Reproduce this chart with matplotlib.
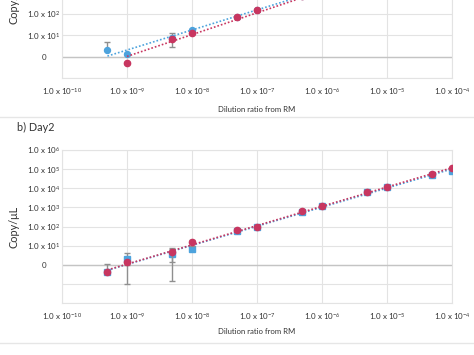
import numpy as np
import matplotlib
matplotlib.use("Agg")
import matplotlib.pyplot as plt

plt.rcParams['font.family'] = ['Lato', 'DejaVu Sans']
plt.rcParams['mathtext.fontset'] = 'custom'
plt.rcParams['mathtext.rm'] = 'Lato'
plt.rcParams['mathtext.it'] = 'Lato'
plt.rcParams['mathtext.bf'] = 'Lato'

# ---------------- data ----------------
dilution = [5e-10, 1e-9, 5e-9, 1e-8, 5e-8, 1e-7, 5e-7, 1e-6, 5e-6, 1e-5, 5e-5, 1e-4]

# Day 1 (top panel, partly cropped)
day1_blue_x = [5e-10, 1e-9, 5e-9, 1e-8, 5e-8, 1e-7, 5e-7, 1e-6, 5e-6, 1e-5, 5e-5, 1e-4]
day1_blue_y = [2.1, 1.35, 7.4, 16.2, 72, 138, 630, 1120, 5600, 11200, 52000, 105000]
day1_blue_err = [2.7, 0.15, 4.7, 2.5, 6, 10, 40, 80, 300, 600, 3000, 6000]
day1_red_x = [1e-9, 5e-9, 1e-8, 5e-8, 1e-7, 5e-7, 1e-6, 5e-6, 1e-5, 5e-5, 1e-4]
day1_red_y = [0.51, 6.2, 12.6, 72, 138, 620, 1100, 5500, 11000, 51000, 104000]
day1_red_err = [0.05, 0.5, 1.0, 5, 8, 30, 60, 300, 600, 3000, 6000]

# Day 2 (bottom panel)
day2_blue_y = [0.42, 2.0, 3.6, 6.7, 60, 95, 600, 1150, 6000, 11000, 52000, 80000]
day2_blue_err = [0.0, 1.9, 3.45, 1.0, 4, 6, 30, 60, 300, 500, 2500, 6000]
day2_red_y = [0.40, 1.32, 4.4, 14.8, 62, 100, 620, 1120, 6200, 11200, 55000, 112000]
day2_red_err = [0.72, 0.3, 3.0, 5.2, 4, 6, 30, 60, 300, 500, 2500, 5000]

x_ticks = [1e-10, 1e-9, 1e-8, 1e-7, 1e-6, 1e-5, 1e-4]
x_ticklabels = ['1.0 x 10$^{-10}$', '1.0 x 10$^{-9}$', '1.0 x 10$^{-8}$', '1.0 x 10$^{-7}$',
                '1.0 x 10$^{-6}$', '1.0 x 10$^{-5}$', '1.0 x 10$^{-4}$']
y_ticks = [1e-2, 1e-1, 1e0, 1e1, 1e2, 1e3, 1e4, 1e5, 1e6]
y_ticklabels = ['', '', '0', '1.0 x 10$^{1}$', '1.0 x 10$^{2}$', '1.0 x 10$^{3}$',
                '1.0 x 10$^{4}$', '1.0 x 10$^{5}$', '1.0 x 10$^{6}$']

BLUE = '#4DA3DD'
RED = '#C83660'
ERR = '#8F8F8F'
GRID = '#E3E3E3'
TXT = '#333333'

W, H = 474, 355
fig = plt.figure(figsize=(W / 100, H / 100), dpi=100)
fig.patch.set_facecolor('white')


def px_axes(left, top, right, bottom):
    return fig.add_axes([left / W, 1 - bottom / H, (right - left) / W, (bottom - top) / H])


def style(ax, ymin):
    ax.set_xscale('log')
    ax.set_yscale('log')
    ax.set_xticks(x_ticks)
    ax.set_xticklabels(x_ticklabels)
    ax.set_yticks(y_ticks)
    ax.set_yticklabels(y_ticklabels)
    ax.set_xlim(1e-10, 1e-4)
    ax.set_ylim(ymin, 1e6)
    ax.minorticks_off()
    ax.tick_params(axis='both', length=0, labelsize=5.8, colors=TXT)
    ax.tick_params(axis='y', pad=13)
    ax.tick_params(axis='x', pad=6)
    for lab in ax.get_yticklabels():
        lab.set_horizontalalignment('center')
    ax.grid(True, color=GRID, lw=0.8)
    ax.set_axisbelow(True)
    for s in ax.spines.values():
        s.set_color(GRID)
        s.set_linewidth(0.8)
    ax.axhline(1, color='#C4C4C4', lw=1.0, zorder=1)
    ax.set_ylabel('Copy/μL', fontsize=7.8, color=TXT)
    ax.yaxis.set_label_coords(-0.108, 0.5)


def series(ax, x, y, err, color, marker, ms, z):
    x = np.array(x)
    y = np.array(y)
    err = np.array(err)
    lower = np.where(y - err > 0, err, 0)
    ax.errorbar(x, y, yerr=[lower, err], fmt='none', ecolor=ERR, elinewidth=1.0,
                capsize=2.2, capthick=1.0, zorder=z)
    ax.plot(x, y, linestyle='none', marker=marker, ms=ms, color=color,
            markeredgecolor=color, zorder=z + 1)
    k, b = np.polyfit(np.log10(x), np.log10(y), 1)
    xx = np.array([x.min(), x.max()])
    ax.plot(xx, 10 ** (k * np.log10(xx) + b), linestyle=(0, (1, 1.2)), color=color,
            lw=1.2, zorder=z + 2)


# top panel (Day1), cropped at the top
ax1 = px_axes(62, 78 - 7 * 21.5, 452, 78)
style(ax1, 1e-1)
series(ax1, day1_blue_x, day1_blue_y, day1_blue_err, BLUE, 'o', 4.3, 3)
series(ax1, day1_red_x, day1_red_y, day1_red_err, RED, 'o', 4.5, 6)

# bottom panel (Day2)
ax2 = px_axes(62, 150, 452, 303)
style(ax2, 1e-2)
series(ax2, dilution, day2_blue_y, day2_blue_err, BLUE, 's', 4.0, 3)
series(ax2, dilution, day2_red_y, day2_red_err, RED, 'o', 4.5, 6)

fig.text(257 / W, 1 - 110 / H, 'Dilution ratio from RM', ha='center', va='center',
         fontsize=5.6, color=TXT)
fig.text(257 / W, 1 - 331 / H, 'Dilution ratio from RM', ha='center', va='center',
         fontsize=5.6, color=TXT)
fig.text(17 / W, 1 - 127 / H, 'b) Day2', ha='left', va='center', fontsize=7.8,
         color=TXT)

for yy in (117, 343):
    fig.add_artist(plt.Line2D([0, 1], [1 - yy / H, 1 - yy / H], color='#E6E6E6', lw=1.0,
                              transform=fig.transFigure))

fig.savefig('out.png', dpi=100, facecolor='white')
